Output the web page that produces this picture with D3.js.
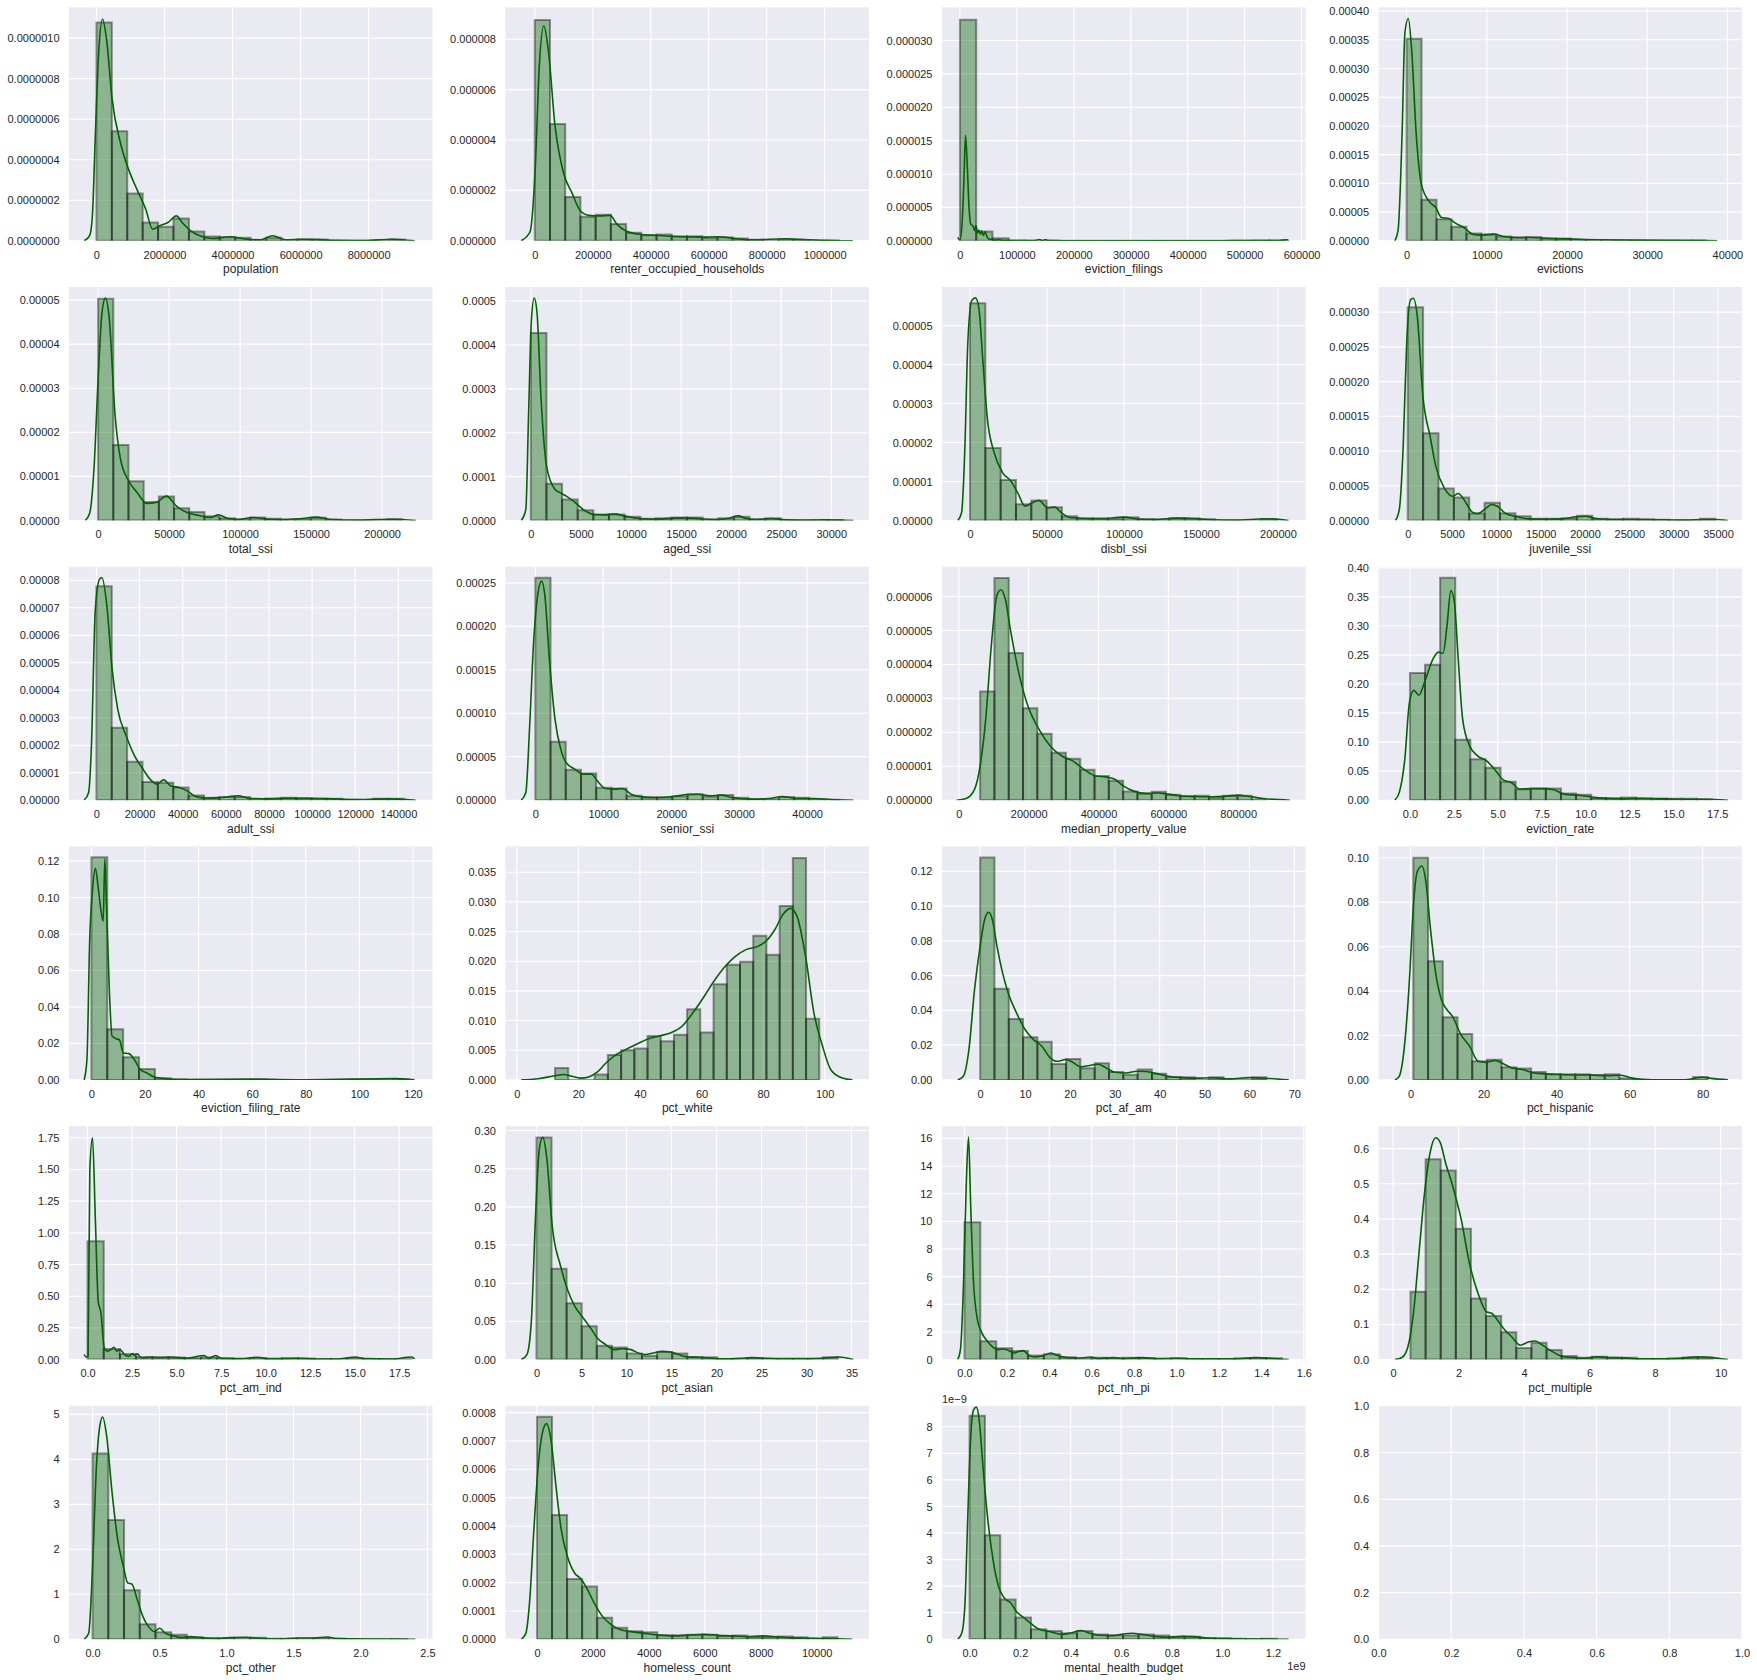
<!DOCTYPE html>
<html><head><meta charset="utf-8">
<script src="https://cdn.jsdelivr.net/npm/d3@7"></script>
<style>
body{margin:0;background:#fff;}
svg{display:block;}
text{font-family:"Liberation Sans", Arial, sans-serif;}
</style></head><body>
<svg id="chart" width="1757" height="1680"></svg>
<script>
const names = ['population','renter_occupied_households','eviction_filings','evictions','total_ssi','aged_ssi','disbl_ssi','juvenile_ssi','adult_ssi','senior_ssi','median_property_value','eviction_rate','eviction_filing_rate','pct_white','pct_af_am','pct_hispanic','pct_am_ind','pct_asian','pct_nh_pi','pct_multiple','pct_other','homeless_count','mental_health_budget',''];
const xUnits = [1e6,1e3,1e3,1e3,1e3,1e3,1e3,1e3,1e3,1e3,1e3,1,1,1,1,1,1,1,1,1,1,1e3,1,1];
const yUnits = [1e-6,1e-6,1e-6,1e-4,1e-5,1e-4,1e-5,1e-5,1e-5,1e-5,1e-6,1,1,1,1,1,1,1,1,1,1,1e-4,1,1];
const xLims = [[-0.806,9.877],[-101,1153],[-31.5,606.9],[-3.503,41.821],[-20.5,235.5],[-2.528,33.764],[-18.2,217.9],[-3.295,37.706],[-12.7,155.8],[-4.389,49.11],[-48.2,992.8],[-1.79,18.91],[-8.36,127.3],[-3.66,114.4],[-8.5,72.5],[-8.77,90.77],[-1.04,19.37],[-3.44,36.94],[-0.106,1.608],[-0.446,10.65],[-0.176,2.538],[-1.127,11.871],[-0.109,1.329],[0,1]];
const yMaxes = [1.152,9.265,34.98,4.066,5.297,5.32,5.99,33.62,8.49,26.86,6.88,0.402,0.128,0.03935,0.1344,0.1052,1.842,0.3058,16.89,0.664,5.19,8.24,8.79,1];
const xSteps = [2,200,100,10,50,5,50,5,20,10,200,2.5,20,20,10,20,2.5,5,0.2,2,0.5,2,0.2,0.2];
const ySteps = [0.2,2,5,0.5,1,1,1,5,1,5,1,0.05,0.02,0.005,0.02,0.02,0.25,0.05,2,0.1,1,1,1,0.2];
const xDecimals = [0,0,0,0,0,0,0,0,0,0,0,1,0,0,0,0,1,0,1,0,1,0,1,1];
const yDecimals = [7,6,6,5,5,4,5,5,5,5,6,2,2,3,2,2,2,2,0,1,0,4,0,1];
const xOffsetTexts = ['','','','','','','','','','','','','','','','','','','','','','','1e9',''];
const yOffsetTexts = ['','','','','','','','','','','','','','','','','','','','','','','1e\u22129',''];
const binRanges = [[0,9.06],[0,1050],[0,572],[0,37.3],[0,214],[0,31.2],[0,199],[0,34.7],[0,142.5],[0,44.8],[61,880],[0,17.2],[0,118.5],[12.43,98.25],[0,63.8],[0.77,81.4],[0,18.2],[0,33.5],[0,1.497],[0.53,9.76],[0,2.35],[0,10.75],[0,1.215],[0,1]];
const binHeights = [
 [1.077,0.541,0.233,0.090,0.069,0.110,0.046,0.021,0.018,0.015,0.004,0.015,0.002,0.006,0.006,0,0,0,0,0.006],
 [8.76,4.63,1.74,0.95,1.03,0.67,0.32,0.22,0.25,0.18,0.18,0.12,0.14,0.09,0.04,0.01,0.06,0.03,0,0.01],
 [33.1,1.39,0.4,0.05,0,0.05,0,0,0,0,0,0,0,0,0,0,0,0,0.05,0.05],
 [3.52,0.713,0.377,0.243,0.128,0.11,0.075,0.058,0.064,0.04,0.04,0.01,0.003,0.003,0.003,0.002,0.002,0.002,0.002,0.005],
 [5.03,1.71,0.89,0.417,0.545,0.28,0.19,0.098,0.053,0.03,0.068,0.038,0.023,0.03,0.06,0.023,0,0,0,0.03],
 [4.27,0.835,0.478,0.235,0.137,0.137,0.083,0.04,0.05,0.068,0.068,0.023,0.05,0.083,0.03,0.05,0.008,0,0.01,0.01],
 [5.57,1.86,1.04,0.42,0.515,0.343,0.11,0.06,0.06,0.04,0.086,0.04,0.026,0.06,0.06,0.03,0,0,0,0.04],
 [30.7,12.56,4.6,3.31,1.0,2.54,1.05,0.62,0.24,0.24,0.34,0.67,0.24,0.19,0.24,0.19,0.1,0.05,0,0.24],
 [7.78,2.63,1.40,0.666,0.63,0.46,0.17,0.085,0.12,0.12,0.036,0.06,0.085,0.07,0.05,0.05,0.012,0,0.05,0.05],
 [25.6,6.72,3.49,3.07,1.42,1.34,0.5,0.31,0.31,0.46,0.69,0.42,0.61,0.27,0.12,0.12,0.38,0.27,0.12,0.04],
 [3.20,6.55,4.34,2.71,1.96,1.40,1.22,0.895,0.71,0.57,0.26,0.19,0.25,0.16,0.12,0.13,0.07,0.13,0.13,0.02],
 [0.219,0.233,0.383,0.104,0.0707,0.0557,0.0316,0.019,0.020,0.020,0.0115,0.0092,0.004,0.004,0.0046,0.0029,0.0029,0.0023,0.0023,0.0017],
 [0.122,0.0278,0.0124,0.006,0.0009,0.0003,0,0,0,0,0.0002,0,0,0,0,0,0,0,0,0.0002],
 [0.002,0,0,0.0009,0.0042,0.005,0.0053,0.0074,0.0065,0.0076,0.0119,0.008,0.0161,0.0194,0.0199,0.0243,0.0211,0.0293,0.0374,0.0103],
 [0.128,0.0524,0.0351,0.0246,0.0219,0.0092,0.0121,0.0067,0.0096,0.0046,0.0029,0.006,0.0036,0.0017,0.0015,0,0.0015,0,0,0.0015],
 [0.1001,0.0534,0.0282,0.0207,0.0084,0.0091,0.0057,0.0051,0.0036,0.0027,0.0025,0.0025,0.0022,0.0025,0.0007,0,0,0,0,0.0013],
 [0.934,0.084,0.045,0.021,0.018,0.016,0.013,0.018,0.01,0.005,0.01,0.008,0.01,0.008,0.005,0.005,0.01,0.003,0.005,0.005],
 [0.291,0.119,0.0738,0.0437,0.0183,0.0157,0.0079,0.0052,0.01,0.0079,0.0035,0.003,0.0009,0.0009,0.0017,0.0009,0.0009,0.0009,0.0009,0.003],
 [9.94,1.33,0.82,0.63,0.29,0.39,0.17,0.07,0.14,0.1,0.14,0.12,0.05,0.1,0.02,0.02,0.02,0.1,0.1,0.1],
 [0.193,0.57,0.538,0.372,0.174,0.124,0.078,0.033,0.048,0.027,0.01,0.005,0.008,0.005,0.005,0.002,0.002,0.003,0.006,0.006],
 [4.13,2.65,1.09,0.334,0.156,0.1,0.045,0.03,0.022,0.015,0.037,0.015,0.015,0.015,0.022,0.015,0,0,0,0.008],
 [7.85,4.39,2.13,1.86,0.76,0.41,0.28,0.25,0.14,0.14,0.16,0.16,0.12,0.13,0.08,0.08,0.1,0.07,0.02,0.07],
 [8.42,3.92,1.5,0.82,0.38,0.31,0.23,0.31,0.18,0.15,0.14,0.18,0.14,0.1,0.1,0.05,0.04,0.025,0.013,0.025],
 []
];
const kdeCurves = [
 [[-0.36,0],[-0.2,0.025],[-0.12,0.12],[-0.03,0.53],[0.07,0.94],[0.18,1.093],[0.3,0.99],[0.46,0.70],[0.71,0.48],[0.95,0.35],[1.2,0.25],[1.45,0.156],[1.65,0.057],[1.86,0.074],[2.1,0.09],[2.35,0.123],[2.52,0.09],[2.77,0.049],[3.1,0.021],[3.42,0.011],[3.92,0.02],[4.41,0.008],[4.82,0.005],[5.18,0.025],[5.56,0.005],[6.06,0.008],[6.55,0.006],[7.05,0.002],[7.87,0.001],[8.7,0.008],[9.35,0]],
 [[-47,0],[-17,0.33],[2,2.97],[15.5,6.9],[31,8.53],[46.6,7.58],[70,4.55],[99,2.7],[128,1.91],[157,1.19],[186,1.01],[225,0.99],[260,1.01],[283,0.66],[313,0.4],[361,0.26],[419,0.22],[478,0.17],[575,0.145],[633,0.16],[691,0.09],[750,0.04],[866,0.08],[944,0.04],[1021,0.01],[1097,0]],
 [[-4,0.5],[0,0.1],[4,3],[7,9],[9.8,15.8],[12.5,12],[16,5],[19,2.5],[23,2.2],[26,1.5],[28,2.3],[31,1.2],[33,1.6],[36,1.0],[38,1.5],[41,0.8],[44,1.4],[47,0.7],[50,0.3],[55,0.2],[60,0.1],[70,0.15],[75,0.05],[90,0.02],[130,0.02],[140,0.2],[145,0.02],[150,0.2],[155,0.02],[200,0],[450,0],[510,0.05],[530,0.02],[560,0.05],[575,0.15],[577,0]],
 [[-1.47,0],[-1.05,0.20],[-0.56,1.88],[-0.21,3.62],[0.21,3.87],[0.63,3.33],[1.19,1.88],[1.89,0.957],[2.94,0.667],[3.64,0.58],[4.34,0.406],[5.25,0.388],[6.09,0.307],[7.15,0.232],[8.2,0.116],[9.25,0.099],[10.86,0.116],[12.05,0.075],[13.8,0.058],[15.55,0.058],[18.0,0.04],[20.8,0.029],[23.6,0.017],[28.5,0.012],[33.4,0.01],[38.7,0]],
 [[-9.1,0],[-5.9,0.17],[-2.8,1.23],[0,3.2],[2.76,4.72],[5.1,5.045],[7.9,4.57],[11.8,2.45],[15.8,1.39],[21.7,0.89],[27.6,0.63],[34.3,0.386],[41.4,0.417],[48.1,0.553],[55.2,0.326],[63.1,0.174],[71,0.114],[78.9,0.068],[84.8,0.129],[90.7,0.053],[98.6,0.023],[108.5,0.068],[120.3,0.03],[132.1,0.023],[142,0.038],[153.8,0.076],[163.6,0.023],[183.4,0.008],[207.1,0.03],[223.7,0]],
 [[-0.955,0],[-0.5,0.25],[-0.22,2.45],[0.06,4.58],[0.34,5.07],[0.62,4.73],[1.01,2.83],[1.57,1.24],[2.42,0.706],[2.98,0.63],[3.54,0.554],[4.38,0.417],[5.22,0.25],[6.35,0.137],[7.47,0.129],[8.31,0.152],[9.44,0.099],[10.84,0.046],[12.53,0.03],[14.2,0.053],[15.6,0.06],[17.0,0.038],[18.4,0.023],[19.8,0.053],[20.7,0.106],[21.5,0.046],[22.6,0.023],[24.0,0.046],[25.4,0.015],[27.7,0.008],[29.3,0.015],[31.1,0.008],[32.2,0]],
 [[-8,0],[-5.5,0.2],[-3.3,1.91],[-1.5,4.49],[1.1,5.64],[3.6,5.71],[5.8,5.43],[8.4,4.06],[11.3,2.6],[15.7,1.74],[21.1,1.23],[26.6,1.01],[31,0.71],[35.7,0.369],[40.4,0.455],[44.8,0.515],[50.3,0.326],[55,0.343],[59.4,0.197],[64.8,0.077],[73.9,0.051],[84.9,0.043],[99.5,0.086],[110.4,0.034],[121.3,0.026],[134.1,0.06],[143.2,0.051],[154.2,0.026],[172.3,0.009],[192.3,0.043],[206.9,0]],
 [[-1.39,0],[-0.95,1.58],[-0.51,10.7],[-0.13,25.1],[0.32,31.8],[0.63,32.0],[1.08,29.4],[1.71,17.9],[2.53,12.1],[3.17,7.8],[4.12,4.7],[5.07,3.5],[5.7,3.88],[6.34,3.02],[7.29,1.2],[7.92,1.0],[8.87,1.82],[9.5,2.3],[10.1,2.06],[11.1,0.96],[12.4,0.53],[13.6,0.24],[15.5,0.19],[17.4,0.24],[19.0,0.53],[20.0,0.62],[21.2,0.29],[23.1,0.14],[25.7,0.14],[28.8,0.1],[31.4,0.05],[33.3,0.14],[34.5,0.14],[36.1,0]],
 [[-5.7,0],[-3.6,0.28],[-2.3,1.97],[-0.5,6.94],[1.56,8.05],[2.6,8.09],[4.7,7.18],[7.3,4.76],[9.9,3.3],[13.8,2.34],[17.7,1.61],[21.6,1.13],[24.9,0.76],[28.1,0.58],[31.2,0.74],[34.5,0.52],[38.4,0.46],[42.3,0.33],[46.2,0.13],[51.4,0.07],[57.9,0.1],[65.7,0.16],[70.9,0.07],[80,0.05],[87.8,0.07],[98.2,0.07],[108.6,0.05],[119,0.024],[134.5,0.05],[148,0]],
 [[-2.07,0],[-1.4,0.88],[-0.83,8.6],[-0.25,18.2],[0.41,23.9],[0.91,25.2],[1.41,23.5],[2.07,16.2],[2.9,9.3],[3.73,5.9],[4.55,4.3],[5.8,3.57],[7.04,3.0],[8.28,3.0],[9.11,2.23],[10.35,1.34],[11.6,1.27],[12.8,1.34],[14.1,0.69],[15.7,0.38],[17.8,0.31],[20.3,0.42],[22.4,0.65],[24,0.69],[25.7,0.5],[27.3,0.58],[29,0.31],[31.9,0.12],[34.4,0.19],[36.4,0.42],[38.5,0.19],[41,0.19],[43.5,0.08],[46.8,0]],
 [[-6.4,0],[20.9,0.05],[45,0.32],[61,1.01],[77,2.39],[93,4.55],[109,6.03],[120.5,6.2],[133,5.93],[149,4.95],[173.5,3.67],[197.6,2.78],[229.7,2.09],[261.8,1.6],[294,1.31],[326,1.16],[358,0.91],[390,0.72],[422.5,0.68],[446.6,0.62],[470.7,0.42],[502.8,0.26],[535,0.2],[567,0.21],[599,0.18],[631,0.13],[679.5,0.11],[727.7,0.1],[767.9,0.12],[800,0.15],[832,0.11],[872,0.05],[948,0]],
 [[-0.86,0],[-0.61,0.013],[-0.29,0.071],[-0.03,0.168],[0.22,0.189],[0.51,0.181],[0.83,0.203],[1.31,0.243],[1.63,0.255],[1.89,0.253],[2.11,0.30],[2.33,0.361],[2.53,0.341],[2.75,0.243],[3.0,0.14],[3.39,0.094],[3.87,0.076],[4.35,0.068],[4.83,0.053],[5.31,0.035],[5.79,0.030],[6.27,0.019],[6.91,0.020],[7.55,0.020],[8.19,0.018],[8.83,0.010],[9.63,0.0086],[10.43,0.0052],[11.23,0.0029],[12.19,0.0023],[13.15,0.0034],[14.1,0.0023],[15.4,0.0017],[16.7,0.0017],[18.1,0]],
 [[-2.7,0],[-1.67,0.011],[-0.63,0.077],[0.42,0.104],[1.46,0.116],[2.5,0.106],[3.55,0.093],[4.4,0.087],[5.0,0.121],[5.64,0.095],[6.7,0.049],[7.7,0.024],[9.2,0.0226],[10.45,0.022],[11.9,0.0148],[14,0.0144],[16.1,0.011],[18.2,0.0057],[20.7,0.0038],[23.4,0.0016],[27.6,0.0007],[32.8,0.0002],[60,0.0004],[80,0.0001],[113.3,0.0007],[120.6,0]],
 [[1.46,0],[6.9,0.0002],[12.4,0.0007],[15.2,0.0009],[17.9,0.0006],[20.7,0.0003],[23.4,0.0005],[26.1,0.0013],[28.9,0.0028],[31.6,0.004],[35.3,0.0051],[38.9,0.006],[42.6,0.0069],[46.3,0.0074],[49.9,0.0079],[53.6,0.009],[57.2,0.0113],[60.9,0.0141],[63.6,0.0163],[67.3,0.0189],[71,0.0208],[74.6,0.022],[78.3,0.0225],[81,0.0234],[83.8,0.0253],[86.5,0.0279],[88.9,0.0289],[91,0.0276],[93.8,0.0208],[96.5,0.0113],[99.3,0.0057],[102,0.0017],[105.7,0.0003],[109,0]],
 [[-5,0],[-3.75,0.0021],[-2.5,0.0175],[-1.25,0.052],[0,0.077],[1,0.0923],[1.9,0.0965],[2.75,0.092],[3.75,0.077],[5,0.0616],[6.25,0.05],[8.1,0.0386],[10,0.029],[11.9,0.0232],[13.75,0.0194],[15.6,0.0127],[17.1,0.0107],[19.1,0.0117],[20.6,0.0102],[22.5,0.0075],[24.4,0.0083],[26.25,0.009],[28.1,0.0069],[30,0.0044],[32.5,0.004],[35,0.005],[36.9,0.0048],[39.4,0.0036],[41.9,0.0021],[45,0.0013],[48.1,0.001],[51.9,0.0012],[55.6,0.0006],[60,0.0013],[64.4,0.0008],[68.75,0]],
 [[-4.3,0],[-3.1,0.0016],[-1.5,0.018],[-0.3,0.045],[0.77,0.078],[1.85,0.0939],[3.1,0.0964],[4.15,0.090],[5.4,0.069],[6.9,0.048],[8.5,0.036],[10,0.0316],[11.5,0.0286],[13.8,0.0204],[16.2,0.0151],[18.5,0.0084],[20.8,0.0079],[23.1,0.0088],[25.4,0.0073],[27.7,0.0054],[30.8,0.0046],[33.8,0.0031],[36.9,0.0027],[40,0.0024],[44.6,0.0022],[49.2,0.0022],[53.8,0.0019],[57.7,0.0021],[60.8,0.0007],[66.2,0.0001],[75,0.0001],[80,0.0012],[82.3,0.0007],[86.9,0]],
 [[-0.19,0.04],[-0.09,0.02],[0.03,0.026],[0.13,1.5],[0.28,1.75],[0.44,1.105],[0.6,0.46],[0.75,0.37],[0.94,0.092],[1.13,0.066],[1.32,0.079],[1.48,0.097],[1.64,0.066],[1.82,0.079],[2.08,0.04],[2.33,0.026],[2.52,0.047],[2.64,0.032],[2.8,0.045],[3.02,0.013],[3.58,0.018],[4.21,0.016],[4.69,0.021],[5.47,0.01],[6.57,0.032],[6.79,0.01],[7.2,0.032],[7.52,0.01],[8.6,0.008],[9.56,0.018],[10.2,0.005],[11.76,0.01],[12.7,0.005],[14,0.005],[15.06,0.021],[15.5,0.008],[17.1,0.005],[18.2,0.021],[18.37,0.005]],
 [[-1.69,0],[-1.06,0.0066],[-0.56,0.052],[-0.12,0.183],[0.31,0.275],[0.69,0.291],[1.13,0.266],[1.75,0.175],[2.69,0.122],[3.44,0.0917],[4.25,0.0699],[5.19,0.0546],[6.13,0.0393],[6.75,0.0284],[7.69,0.0197],[8.63,0.0131],[9.56,0.0144],[10.5,0.0131],[11.44,0.0079],[12.06,0.0066],[13,0.0087],[13.94,0.0109],[14.9,0.01],[15.8,0.0066],[16.75,0.0035],[18,0.003],[19.25,0.0017],[20.8,0.0009],[22.7,0.0017],[23.9,0.0026],[25.8,0.0017],[27.7,0.0013],[30.2,0.0013],[32.1,0.0022],[33.6,0.0035],[35.2,0]],
 [[-0.032,0],[-0.019,0.72],[-0.005,5.3],[0.008,12.5],[0.019,16.1],[0.029,11.3],[0.042,5.8],[0.061,2.9],[0.082,1.93],[0.108,1.33],[0.135,0.89],[0.161,0.72],[0.18,0.77],[0.206,0.68],[0.233,0.48],[0.259,0.6],[0.278,0.65],[0.299,0.36],[0.331,0.19],[0.373,0.29],[0.405,0.48],[0.437,0.31],[0.484,0.14],[0.55,0.12],[0.595,0.19],[0.63,0.07],[0.701,0.14],[0.749,0.07],[0.802,0.12],[0.841,0.14],[0.894,0.07],[1.0,0.1],[1.066,0.05],[1.278,0.05],[1.37,0.14],[1.437,0.1],[1.529,0]],
 [[0.05,0],[0.27,0.006],[0.45,0.036],[0.62,0.131],[0.79,0.303],[0.96,0.474],[1.13,0.589],[1.3,0.631],[1.44,0.617],[1.6,0.56],[1.82,0.493],[2.08,0.398],[2.33,0.274],[2.59,0.189],[2.85,0.136],[3.02,0.131],[3.19,0.112],[3.41,0.084],[3.62,0.065],[3.88,0.041],[4.13,0.05],[4.34,0.053],[4.56,0.041],[4.82,0.025],[5.08,0.012],[5.42,0.006],[5.85,0.004],[6.19,0.008],[6.53,0.006],[7.05,0.005],[7.56,0.002],[8.25,0.002],[8.94,0.005],[9.28,0.008],[9.79,0.005],[10.22,0]],
 [[-0.063,0],[-0.029,0.134],[0,1.62],[0.029,3.85],[0.054,4.74],[0.075,4.94],[0.105,4.52],[0.146,3.25],[0.188,2.21],[0.23,1.62],[0.263,1.25],[0.293,1.23],[0.334,0.877],[0.376,0.505],[0.418,0.282],[0.46,0.171],[0.502,0.245],[0.543,0.134],[0.606,0.074],[0.669,0.037],[0.732,0.059],[0.815,0.037],[0.92,0.015],[1.024,0.037],[1.15,0.045],[1.233,0.022],[1.4,0.007],[1.526,0.03],[1.65,0.03],[1.756,0.052],[1.818,0.015],[2.03,0.007],[2.24,0.007],[2.41,0]],
 [[-0.563,0],[-0.4,0.21],[-0.26,1.39],[-0.12,3.74],[0.04,6.09],[0.2,7.32],[0.34,7.61],[0.5,7.03],[0.68,5.38],[0.85,3.97],[1.09,2.91],[1.35,2.33],[1.55,2.15],[1.75,1.86],[2.05,1.27],[2.35,0.8],[2.66,0.51],[2.96,0.35],[3.36,0.27],[3.86,0.21],[4.37,0.15],[4.87,0.12],[5.47,0.15],[5.98,0.18],[6.48,0.14],[6.98,0.12],[7.48,0.09],[8.09,0.12],[8.59,0.09],[9.1,0.05],[9.9,0.035],[10.7,0.02],[11.27,0]],
 [[-0.047,0],[-0.031,0.23],[-0.018,1.36],[-0.007,4.62],[0.004,7.51],[0.016,8.64],[0.027,8.74],[0.038,8.27],[0.053,6.51],[0.071,4.62],[0.093,2.99],[0.115,1.98],[0.138,1.55],[0.164,1.36],[0.186,1.04],[0.213,0.83],[0.242,0.6],[0.275,0.38],[0.319,0.29],[0.364,0.19],[0.397,0.23],[0.441,0.33],[0.475,0.23],[0.519,0.15],[0.563,0.14],[0.608,0.2],[0.641,0.23],[0.685,0.18],[0.741,0.1],[0.785,0.075],[0.841,0.11],[0.885,0.1],[0.941,0.05],[1.007,0.025],[1.096,0.013],[1.185,0.013],[1.262,0]],
 []
];

const svg = d3.select('#chart');
const colLeft = [69, 505.5, 942, 1378.5], plotW = 363.5;
const rowTop0 = 7.3, rowGap = 279.7, plotH = 233.5;
const textColor = '#262626';

function makeTicks(lo, hi, step) {
  const out = [];
  for (let i = Math.ceil(lo / step - 1e-9); i * step <= hi + Math.abs(step) * 1e-6; i++) out.push(i * step);
  return out;
}
const fmt = (v, dec) => (Math.abs(v) < 1e-15 ? 0 : v).toFixed(dec);

names.forEach((name, k) => {
  const r = Math.floor(k / 4), c = k % 4;
  const gx = colLeft[c], gy = rowTop0 + r * rowGap;
  const g = svg.append('g').attr('transform', `translate(${gx},${gy})`);
  const xs = d3.scaleLinear().domain(xLims[k]).range([0, plotW]);
  const ys = d3.scaleLinear().domain([0, yMaxes[k]]).range([plotH, 0]);

  g.append('rect').attr('width', plotW).attr('height', plotH).attr('fill', '#EAEAF2');

  const xt = makeTicks(xLims[k][0], xLims[k][1], xSteps[k]);
  const yt = makeTicks(0, yMaxes[k], ySteps[k]);

  g.append('g').selectAll('line').data(xt).join('line')
    .attr('x1', d => xs(d)).attr('x2', d => xs(d)).attr('y1', 0).attr('y2', plotH)
    .attr('stroke', '#fff').attr('stroke-width', 1.1);
  g.append('g').selectAll('line').data(yt).join('line')
    .attr('y1', d => ys(d)).attr('y2', d => ys(d)).attr('x1', 0).attr('x2', plotW)
    .attr('stroke', '#fff').attr('stroke-width', 1.1);

  const cid = 'clip' + k;
  g.append('clipPath').attr('id', cid).append('rect').attr('width', plotW).attr('height', plotH);
  const pg = g.append('g').attr('clip-path', `url(#${cid})`);

  const heights = binHeights[k];
  if (heights.length) {
    const [lo, hi] = binRanges[k];
    const w = (hi - lo) / heights.length;
    const bins = heights.map((h, i) => ({a: lo + i * w, b: lo + (i + 1) * w, h}));
    pg.append('g').selectAll('path').data(bins).join('path')
      .attr('d', d => `M${xs(d.a)},${ys(0)}V${ys(d.h)}H${xs(d.b)}V${ys(0)}Z`)
      .attr('fill', '#006400').attr('fill-opacity', 0.4)
      .attr('stroke', '#000').attr('stroke-opacity', 0.4).attr('stroke-width', 2);
  }
  const kde = kdeCurves[k];
  if (kde.length) {
    const line = d3.line().x(d => xs(d[0])).y(d => ys(d[1])).curve(d3.curveMonotoneX);
    pg.append('path').attr('d', line(kde)).attr('fill', 'none')
      .attr('stroke', '#006400').attr('stroke-width', 1.6).attr('stroke-linejoin', 'round');
  }

  const xa = g.append('g').attr('transform', `translate(0,${plotH})`)
    .call(d3.axisBottom(xs).tickValues(xt).tickSize(0).tickPadding(10)
      .tickFormat(d => fmt(d * xUnits[k], xDecimals[k])));
  xa.select('.domain').remove();
  xa.attr('font-size', 11).attr('font-family', '"Liberation Sans", Arial, sans-serif').attr('color', textColor);

  const ya = g.append('g')
    .call(d3.axisLeft(ys).tickValues(yt).tickSize(0).tickPadding(9.5)
      .tickFormat(d => fmt(d * yUnits[k], yDecimals[k])));
  ya.select('.domain').remove();
  ya.attr('font-size', 11).attr('font-family', '"Liberation Sans", Arial, sans-serif').attr('color', textColor);

  if (name) {
    g.append('text').attr('x', plotW / 2).attr('y', plotH + 32.5)
      .attr('text-anchor', 'middle').attr('font-size', 12).attr('fill', textColor).text(name);
  }
  if (xOffsetTexts[k]) {
    g.append('text').attr('x', plotW).attr('y', plotH + 31)
      .attr('text-anchor', 'end').attr('font-size', 11).attr('fill', textColor).text(xOffsetTexts[k]);
  }
  if (yOffsetTexts[k]) {
    g.append('text').attr('x', 0).attr('y', -3)
      .attr('text-anchor', 'start').attr('font-size', 11).attr('fill', textColor).text(yOffsetTexts[k]);
  }
});
</script>
</body></html>
